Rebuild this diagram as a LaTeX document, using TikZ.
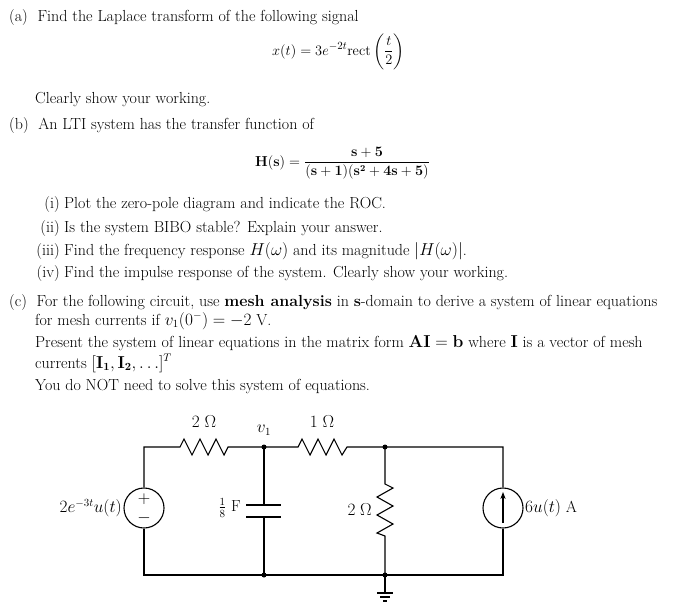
\documentclass[tikz,border=0pt]{standalone}
\usepackage{amsmath,amssymb}
\usetikzlibrary{arrows.meta}
\begin{document}
\begin{tikzpicture}[x=1pt,y=-1pt,
  txt/.style={anchor=base west,inner sep=0pt,font=\fontsize{16}{19}\selectfont},
  lbl/.style={anchor=base east,inner sep=0pt,font=\fontsize{16}{19}\selectfont},
  ct/.style={inner sep=1pt,font=\fontsize{16}{18}\selectfont},
  wire/.style={line width=1.1pt},
  dot/.style={circle,fill,inner sep=0pt,minimum size=5pt}]
\useasboundingbox (0,0) rectangle (692,603);
\node[txt] (a1) at (9,21) {(a)\ \ Find the Laplace transform of the following signal};
\node[txt,font=\fontsize{15}{18}\selectfont] (a2) at (272,55) {$x(t)=3e^{-2t}\mathrm{rect}\left(\dfrac{t}{2}\right)$};
\node[txt] (a3) at (35,103) {Clearly show your working.};
\node[txt] (b1) at (9,129) {(b)\ \ An LTI system has the transfer function of};
\node[txt,font=\fontsize{13.5}{16}\selectfont] (b2) at (255,166) {$\mathbf{H(s)}=\dfrac{\mathbf{s+5}}{\mathbf{(s+1)(s^2+4s+5)}}$};
\node[lbl] (i1) at (60,208) {(i)};
\node[txt] (t1) at (64,208) {Plot the zero-pole diagram and indicate the ROC.};
\node[lbl] (i2) at (60,232) {(ii)};
\node[txt] (t2) at (64,232) {Is the system BIBO stable? Explain your answer.};
\node[lbl] (i3) at (60,255) {(iii)};
\node[txt] (t3) at (64,255) {Find the frequency response $H(\omega)$ and its magnitude $|H(\omega)|$.};
\node[lbl] (i4) at (60,277) {(iv)};
\node[txt] (t4) at (64,277) {Find the impulse response of the system. Clearly show your working.};
\node[txt] (c1) at (9,306) {(c)\ \ For the following circuit, use \textbf{mesh analysis} in \textbf{s}-domain to derive a system of linear equations};
\node[txt] (c2) at (35,325) {for mesh currents if $v_1(0^-)=-2$ V.};
\node[txt] (c3) at (35,347) {Present the system of linear equations in the matrix form $\mathbf{AI}=\mathbf{b}$ where $\mathbf{I}$ is a vector of mesh};
\node[txt] (c4) at (35,368) {currents $[\mathbf{I_1},\mathbf{I_2},\ldots]^T$};
\node[txt] (c5) at (35,390) {You do NOT need to solve this system of equations.};
% circuit
\coordinate (TL) at (144,447); \coordinate (TC) at (264,447); \coordinate (TN) at (385,447); \coordinate (TR) at (503,447);
\coordinate (BL) at (144,575); \coordinate (BC) at (264,575); \coordinate (BN) at (385,575); \coordinate (BR) at (503,575);
\node[circle,draw,wire,minimum size=40pt,inner sep=0pt] (vs) at (144,508) {};
\node[circle,draw,wire,minimum size=40pt,inner sep=0pt] (is) at (503,508) {};
\node[ct] at (144,499) {$+$};
\node[ct] at (144,518) {$-$};
\draw[wire,-{Stealth[length=7pt]}] (503,523) -- (503,492);
\draw[wire] (vs.north) -- (TL) -- (180,447)
  -- (184,439) -- (192,455) -- (200,439) -- (208,455) -- (216,439) -- (224,455) -- (228,447)
  -- (TC) -- (298,447)
  -- (302,439) -- (310,455) -- (318,439) -- (326,455) -- (334,439) -- (342,455) -- (347,447)
  -- (TN) -- (TR) -- (is.north);
\draw[wire] (is.south) -- (BR) -- (BL) -- (vs.south);
\draw[wire] (TC) -- (264,505) (246,505) -- (281,505) (246,517) -- (281,517) (264,517) -- (BC);
\draw[wire] (TN) -- (385,484) -- (393,488) -- (377,497) -- (393,506) -- (377,515) -- (393,524) -- (377,533) -- (385,536) -- (BN);
\draw[wire] (BN) -- (385,593) (377,593) -- (393,593) (380,597) -- (390,597) (383,601) -- (387,601);
\node[dot] at (TC) {}; \node[dot] at (TN) {}; \node[dot] at (BC) {}; \node[dot] at (BN) {};
\node[ct] at (204,422) {$2\ \Omega$};
\node[ct] at (264,430) {$v_1$};
\node[ct] at (322,422) {$1\ \Omega$};
\node[ct,anchor=east] at (123,508) {$2e^{-3t}u(t)$};
\node[ct,anchor=east] at (242,508) {$\frac{1}{8}$ F};
\node[ct,anchor=east] at (373,510) {$2\ \Omega$};
\node[ct,anchor=west] at (524,508) {$6u(t)$ A};
\end{tikzpicture}
\end{document}
